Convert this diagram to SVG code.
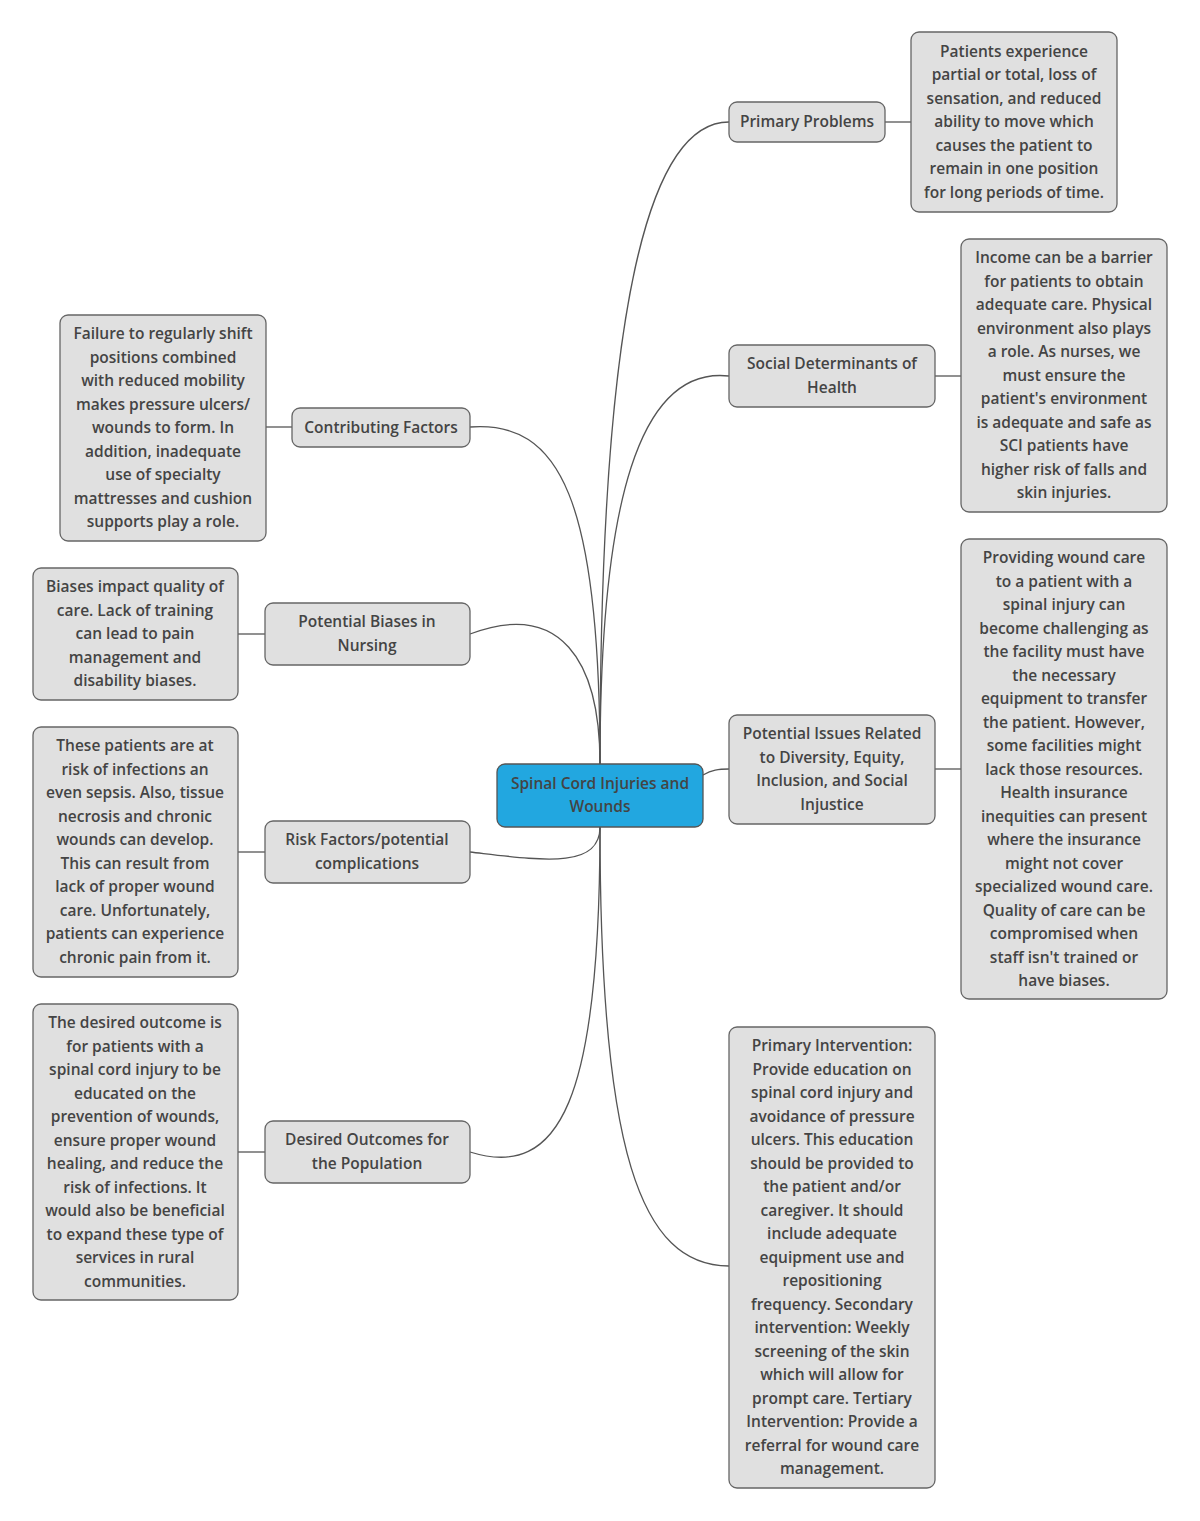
<svg xmlns="http://www.w3.org/2000/svg" width="1200" height="1521" viewBox="0 0 1200 1521">
<style>
.b{fill:#e0e0e0;stroke:#666;stroke-width:1.3}
.c{fill:#22a7e0;stroke:#555;stroke-width:1.3}
text{font-family:"Open Sans","Noto Sans",sans-serif;font-weight:600;font-size:15.5px;fill:#444;text-anchor:middle}
#conn path{fill:none;stroke:#555;stroke-width:1.3}
</style>
<rect width="1200" height="1521" fill="#fff"/>
<g id="conn">
<path d="M600,764 C600,300 650,122 729,122"/>
<path d="M600,764 C600,500 640,366 729,376"/>
<path d="M703,775 C712,770 718,769 729,769"/>
<path d="M600,827 C600,1150 640,1266 729,1266"/>
<path d="M600,764 C600,500 560,420 470,427"/>
<path d="M600,764 C600,660 560,600 470,634"/>
<path d="M600,827 C600,870 540,860 470,852"/>
<path d="M600,827 C600,1100 560,1180 470,1152"/>
<path d="M885,122 H911"/><path d="M935,376 H961"/><path d="M935,769 H961"/>
<path d="M292,427 H266"/><path d="M265,634 H238"/><path d="M265,852 H238"/><path d="M265,1152 H238"/>
</g>
<g id="center"><rect class="c" x="497" y="764" width="206" height="63" rx="8"/><text x="600" y="789">Spinal Cord Injuries and</text><text x="600" y="812">Wounds</text></g>
<g id="pp"><rect class="b" x="729" y="102" width="156" height="40" rx="8"/><text x="807" y="127">Primary Problems</text></g>
<g id="ppd"><rect class="b" x="911" y="32" width="206" height="180" rx="8"/>
<text x="1014" y="57">Patients experience</text><text x="1014" y="80">partial or total, loss of</text><text x="1014" y="104">sensation, and reduced</text><text x="1014" y="127">ability to move which</text><text x="1014" y="151">causes the patient to</text><text x="1014" y="174">remain in one position</text><text x="1014" y="198">for long periods of time.</text></g>
<g id="sd"><rect class="b" x="729" y="345" width="206" height="62" rx="8"/><text x="832" y="369">Social Determinants of</text><text x="832" y="393">Health</text></g>
<g id="sdd"><rect class="b" x="961" y="239" width="206" height="273" rx="8"/>
<text x="1064" y="263">Income can be a barrier</text><text x="1064" y="287">for patients to obtain</text><text x="1064" y="310">adequate care. Physical</text><text x="1064" y="334">environment also plays</text><text x="1064" y="357">a role. As nurses, we</text><text x="1064" y="381">must ensure the</text><text x="1064" y="404">patient's environment</text><text x="1064" y="428">is adequate and safe as</text><text x="1064" y="451">SCI patients have</text><text x="1064" y="475">higher risk of falls and</text><text x="1064" y="498">skin injuries.</text></g>
<g id="pi"><rect class="b" x="729" y="715" width="206" height="109" rx="8"/><text x="832" y="739">Potential Issues Related</text><text x="832" y="763">to Diversity, Equity,</text><text x="832" y="786">Inclusion, and Social</text><text x="832" y="810">Injustice</text></g>
<g id="pid"><rect class="b" x="961" y="539" width="206" height="460" rx="8"/>
<text x="1064" y="563">Providing wound care</text><text x="1064" y="587">to a patient with a</text><text x="1064" y="610">spinal injury can</text><text x="1064" y="634">become challenging as</text><text x="1064" y="657">the facility must have</text><text x="1064" y="681">the necessary</text><text x="1064" y="704">equipment to transfer</text><text x="1064" y="728">the patient. However,</text><text x="1064" y="751">some facilities might</text><text x="1064" y="775">lack those resources.</text><text x="1064" y="798">Health insurance</text><text x="1064" y="822">inequities can present</text><text x="1064" y="845">where the insurance</text><text x="1064" y="869">might not cover</text><text x="1064" y="892">specialized wound care.</text><text x="1064" y="916">Quality of care can be</text><text x="1064" y="939">compromised when</text><text x="1064" y="963">staff isn't trained or</text><text x="1064" y="986">have biases.</text></g>
<g id="pint"><rect class="b" x="729" y="1027" width="206" height="461" rx="8"/>
<text x="832" y="1051">Primary Intervention:</text><text x="832" y="1075">Provide education on</text><text x="832" y="1098">spinal cord injury and</text><text x="832" y="1122">avoidance of pressure</text><text x="832" y="1145">ulcers. This education</text><text x="832" y="1169">should be provided to</text><text x="832" y="1192">the patient and/or</text><text x="832" y="1216">caregiver. It should</text><text x="832" y="1239">include adequate</text><text x="832" y="1263">equipment use and</text><text x="832" y="1286">repositioning</text><text x="832" y="1310">frequency. Secondary</text><text x="832" y="1333">intervention: Weekly</text><text x="832" y="1357">screening of the skin</text><text x="832" y="1380">which will allow for</text><text x="832" y="1404">prompt care. Tertiary</text><text x="832" y="1427">Intervention: Provide a</text><text x="832" y="1451">referral for wound care</text><text x="832" y="1474">management.</text></g>
<g id="cf"><rect class="b" x="292" y="408" width="178" height="39" rx="8"/><text x="381" y="433">Contributing Factors</text></g>
<g id="cfd"><rect class="b" x="60" y="315" width="206" height="226" rx="8"/>
<text x="163" y="339">Failure to regularly shift</text><text x="163" y="363">positions combined</text><text x="163" y="386">with reduced mobility</text><text x="163" y="410">makes pressure ulcers/</text><text x="163" y="433">wounds to form. In</text><text x="163" y="457">addition, inadequate</text><text x="163" y="480">use of specialty</text><text x="163" y="504">mattresses and cushion</text><text x="163" y="527">supports play a role.</text></g>
<g id="pb"><rect class="b" x="265" y="603" width="205" height="62" rx="8"/><text x="367" y="627">Potential Biases in</text><text x="367" y="651">Nursing</text></g>
<g id="pbd"><rect class="b" x="33" y="568" width="205" height="132" rx="8"/>
<text x="135" y="592">Biases impact quality of</text><text x="135" y="616">care. Lack of training</text><text x="135" y="639">can lead to pain</text><text x="135" y="663">management and</text><text x="135" y="686">disability biases.</text></g>
<g id="rf"><rect class="b" x="265" y="821" width="205" height="62" rx="8"/><text x="367" y="845">Risk Factors/potential</text><text x="367" y="869">complications</text></g>
<g id="rfd"><rect class="b" x="33" y="727" width="205" height="250" rx="8"/>
<text x="135" y="751">These patients are at</text><text x="135" y="775">risk of infections an</text><text x="135" y="798">even sepsis. Also, tissue</text><text x="135" y="822">necrosis and chronic</text><text x="135" y="845">wounds can develop.</text><text x="135" y="869">This can result from</text><text x="135" y="892">lack of proper wound</text><text x="135" y="916">care. Unfortunately,</text><text x="135" y="939">patients can experience</text><text x="135" y="963">chronic pain from it.</text></g>
<g id="do"><rect class="b" x="265" y="1121" width="205" height="62" rx="8"/><text x="367" y="1145">Desired Outcomes for</text><text x="367" y="1169">the Population</text></g>
<g id="dod"><rect class="b" x="33" y="1004" width="205" height="296" rx="8"/>
<text x="135" y="1028">The desired outcome is</text><text x="135" y="1052">for patients with a</text><text x="135" y="1075">spinal cord injury to be</text><text x="135" y="1099">educated on the</text><text x="135" y="1122">prevention of wounds,</text><text x="135" y="1146">ensure proper wound</text><text x="135" y="1169">healing, and reduce the</text><text x="135" y="1193">risk of infections. It</text><text x="135" y="1216">would also be beneficial</text><text x="135" y="1240">to expand these type of</text><text x="135" y="1263">services in rural</text><text x="135" y="1287">communities.</text></g>
</svg>
